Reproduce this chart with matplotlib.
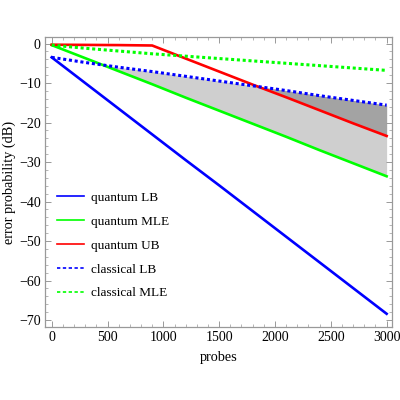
import matplotlib
matplotlib.use('Agg')
import matplotlib.pyplot as plt
from matplotlib.lines import Line2D
from matplotlib.ticker import MultipleLocator

plt.rcParams['font.family'] = ['Liberation Serif', 'DejaVu Serif']

# values (dB vs number of probes)
probes = [0, 300, 600, 900, 1200, 1500, 1800, 2100, 2400, 2700, 3000]
quantum_lb = [-3.5, -10.0, -16.5, -23.0, -29.5, -35.9, -42.4, -48.9, -55.4, -61.9, -68.4]
quantum_mle = [-0.4, -3.7, -7.0, -10.3, -13.7, -17.0, -20.3, -23.6, -27.0, -30.3, -33.6]
quantum_ub = [-0.3, -0.35, -0.4, -0.5, -3.8, -7.1, -10.4, -13.6, -16.9, -20.2, -23.4]
classical_lb = [-3.5, -4.8, -6.0, -7.1, -8.3, -9.5, -10.7, -11.9, -13.2, -14.4, -15.6]
classical_mle = [-0.4, -1.2, -1.9, -2.6, -3.2, -3.8, -4.4, -5.0, -5.6, -6.2, -6.8]

labels = ['quantum LB', 'quantum MLE', 'quantum UB', 'classical LB', 'classical MLE']

fig = plt.figure(figsize=(4, 4), dpi=100)
ax = fig.add_axes([0.1125, 0.182, 0.868, 0.725])

# shaded regions
ax.fill_between(probes, quantum_mle, classical_lb,
                where=[m <= c for m, c in zip(quantum_mle, classical_lb)],
                interpolate=True, color='#cfcfcf', lw=0, zorder=1)
ax.fill_between(probes, quantum_ub, classical_lb,
                where=[u <= c for u, c in zip(quantum_ub, classical_lb)],
                interpolate=True, color='#a3a3a3', lw=0, zorder=1)

lw = 1.9
ax.plot(probes, quantum_lb, color='#0000ff', lw=lw, zorder=3)
ax.plot(probes, quantum_mle, color='#00ff00', lw=lw, zorder=3)
ax.plot(probes, quantum_ub, color='#ff0000', lw=lw, zorder=3)
ax.plot(probes, classical_lb, color='#0000ff', lw=2.2, dashes=(1, 0.9),
        dash_capstyle='butt', zorder=3)
ax.plot(probes, classical_mle, color='#00ff00', lw=2.2, dashes=(1, 0.9),
        dash_capstyle='butt', zorder=3)

ax.set_xlim(-60, 3050)
ax.set_ylim(-71.8, 1.6)

ax.xaxis.set_major_locator(MultipleLocator(500))
ax.xaxis.set_minor_locator(MultipleLocator(100))
ax.yaxis.set_major_locator(MultipleLocator(10))
ax.yaxis.set_minor_locator(MultipleLocator(2))
ax.tick_params(which='both', direction='in', top=True, right=True,
               color='#999999', labelsize=10, pad=3)
ax.tick_params(which='major', length=4, width=0.7)
ax.tick_params(which='minor', length=2, width=0.5)
for s in ax.spines.values():
    s.set_color('#999999')
    s.set_linewidth(0.9)

ax.set_xlabel('probes', fontsize=10.3, labelpad=5)
ax.set_ylabel('error probability (dB)', fontsize=10.3, labelpad=2)

handles = [
    Line2D([], [], color='#0000ff', lw=1.2),
    Line2D([], [], color='#00ff00', lw=1.2),
    Line2D([], [], color='#ff0000', lw=1.2),
    Line2D([], [], color='#0000ff', lw=1.2, dashes=(2, 1.5)),
    Line2D([], [], color='#00ff00', lw=1.2, dashes=(2, 1.5)),
]
ax.legend(handles, labels, loc='lower left', bbox_to_anchor=(0.0, 0.055),
          frameon=False, fontsize=9.5, handlelength=2.05, handletextpad=0.55,
          labelspacing=0.88)

fig.savefig('out.png', dpi=100)
